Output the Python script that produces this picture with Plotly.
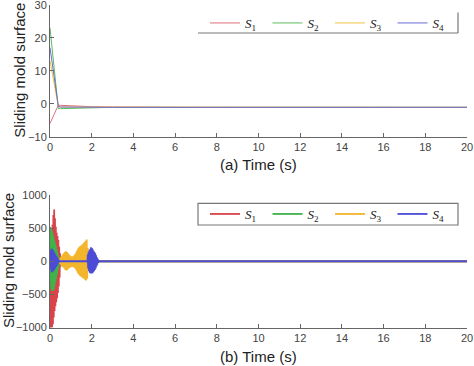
import plotly.graph_objects as go

W, H = 474, 366

# ---------------- data: panel (a) ----------------
t_a = [0, 0.4, 0.5, 1, 2, 3, 4, 6, 20]
a_s1 = [-6, -0.4, -0.5, -0.7, -0.9, -1.0, -1.05, -1.1, -1.1]
a_s2 = [23, -1.5, -1.5, -1.4, -1.2, -1.1, -1.1, -1.1, -1.1]
a_s3 = [13, -0.8, -1.0, -1.0, -1.05, -1.1, -1.1, -1.1, -1.1]
a_s4 = [17, -0.8, -1.0, -1.05, -1.1, -1.1, -1.1, -1.1, -1.1]

# ---------------- data: panel (b) ----------------
b_t1 = [0.00, 0.02, 0.04, 0.06, 0.08, 0.10, 0.12, 0.14, 0.16, 0.18, 0.20, 0.22, 0.24,
        0.26, 0.28, 0.30, 0.32, 0.34, 0.36, 0.38, 0.40, 0.42, 0.44, 0.46, 0.48, 0.50, 0.52, 20]
b_s1 = [0, -1050, 250, -1050, 400, -1000, 550, -950, 700, -850, 780, -750, 650,
        -680, 520, -620, 430, -560, 380, -480, 320, -380, 220, -250, 120, -80, 0, 0]

b_t2 = [0.00, 0.02, 0.04, 0.06, 0.08, 0.10, 0.12, 0.14, 0.16, 0.18, 0.20, 0.22, 0.24,
        0.26, 0.28, 0.30, 0.32, 0.34, 0.36, 0.38, 0.40, 0.42, 0.44, 0.46, 20]
b_s2 = [520, -300, 500, -420, 470, -450, 430, -450, 380, -430, 330, -380, 280,
        -320, 230, -260, 180, -200, 130, -140, 80, -80, 30, 0, 0]

b_t3 = [0, 0.44, 0.460, 0.485, 0.510, 0.535, 0.560, 0.585, 0.610, 0.635, 0.660, 0.685,
        0.710, 0.735, 0.760, 0.785, 0.810, 0.835, 0.860, 0.885, 0.910, 0.935, 0.960,
        0.985, 1.010, 1.035, 1.060, 1.085, 1.110, 1.135, 1.160, 1.185, 1.210, 1.235,
        1.260, 1.285, 1.310, 1.335, 1.360, 1.385, 1.410, 1.435, 1.460, 1.485, 1.510,
        1.535, 1.560, 1.585, 1.610, 1.635, 1.660, 1.685, 1.710, 1.735, 1.760, 1.785,
        1.810, 1.830, 20]
b_s3 = [0, 0, 30, -40, 60, -60, 80, -80, 100, -90, 120, -110,
        140, -130, 150, -140, 140, -130, 120, -110, 100, -100, 85,
        -90, 75, -85, 70, -85, 75, -90, 90, -100, 110, -120,
        140, -150, 170, -180, 200, -200, 220, -220, 230, -230, 240,
        -240, 255, -255, 270, -265, 290, -280, 310, -290, 330, -260,
        200, 0, 0]

b_t4 = [0.00, 0.02, 0.04, 0.06, 0.08, 0.10, 0.12, 0.14, 0.16, 0.18, 0.20, 0.22, 0.24,
        0.26, 0.28, 0.30, 0.32, 0.34, 0.36, 0.38, 0.40, 0.42, 0.44,
        1.80, 1.81, 1.83, 1.85, 1.87, 1.89, 1.91, 1.93, 1.95, 1.97, 1.99, 2.01, 2.03,
        2.05, 2.07, 2.09, 2.11, 2.13, 2.15, 2.17, 2.19, 2.21, 2.23, 2.25, 2.27, 2.29,
        2.31, 2.33, 2.35, 20]
b_s4 = [0, 150, -120, 190, -170, 190, -160, 170, -150, 150, -130, 120, -110,
        100, -90, 80, -70, 60, -50, 40, -30, 20, 0,
        0, 100, -110, 140, -150, 170, -175, 190, -185, 210, -185, 200, -180,
        180, -165, 160, -150, 140, -130, 120, -110, 90, -80, 60, -50, 35,
        -25, 10, 0, 0]

names = ["<i>S</i><sub>1</sub>", "<i>S</i><sub>2</sub>", "<i>S</i><sub>3</sub>", "<i>S</i><sub>4</sub>"]
colors_a = ["#e0707a", "#5cbc5c", "#f2c440", "#6a6ad8"]
colors_b = ["#d9434a", "#3fb24a", "#f2b52c", "#4b4bd6"]

x_ticks = list(range(0, 21, 2))
ya_ticks = [-10, 0, 10, 20, 30]
yb_ticks = [-1000, -500, 0, 500, 1000]

def px(x):
    return x / W

def py(y):
    return 1 - y / H

fig = go.Figure()
for name, col, y in zip(names, colors_a, [a_s1, a_s2, a_s3, a_s4]):
    fig.add_trace(go.Scatter(x=t_a, y=y, mode="lines", name=name,
                             line=dict(color=col, width=1), xaxis="x", yaxis="y",
                             legend="legend"))
for name, col, (tt, y) in zip(names, colors_b, [(b_t1, b_s1), (b_t2, b_s2), (b_t3, b_s3), (b_t4, b_s4)]):
    fig.add_trace(go.Scatter(x=tt, y=y, mode="lines", name=name,
                             line=dict(color=col, width=1.8), xaxis="x2", yaxis="y2",
                             legend="legend2"))

axis_common = dict(showgrid=False, zeroline=False, showline=True, linecolor="#666",
                   linewidth=1, ticks="inside", ticklen=4, tickcolor="#666",
                   tickfont=dict(family="Liberation Sans, Arial", size=11, color="#444"),
                   mirror=False, automargin=False, ticklabeloverflow="allow")

fig.update_layout(
    template="none",
    width=W, height=H,
    margin=dict(l=0, r=0, t=0, b=0, autoexpand=False),
    paper_bgcolor="white", plot_bgcolor="white",
    xaxis=dict(domain=[px(50), px(467)], range=[0, 20], tickvals=x_ticks, anchor="y", **axis_common),
    yaxis=dict(domain=[py(136.7), py(4.7)], range=[-10, 30], tickvals=ya_ticks, anchor="x", **axis_common),
    xaxis2=dict(domain=[px(50), px(467)], range=[0, 20], tickvals=x_ticks, anchor="y2", **axis_common),
    yaxis2=dict(domain=[py(327.5), py(195)], range=[-1000, 1000], tickvals=yb_ticks, anchor="x2", **axis_common),
    legend=dict(orientation="h", x=px(205), xanchor="left", y=py(23), yanchor="middle",
                bgcolor="rgba(0,0,0,0)", borderwidth=0, entrywidth=17.5,
                font=dict(family="Liberation Serif, Times New Roman", size=13, color="#222")),
    legend2=dict(orientation="h", x=px(205), xanchor="left", y=py(214), yanchor="middle",
                 bgcolor="rgba(0,0,0,0)", borderwidth=0, entrywidth=17.5,
                 font=dict(family="Liberation Serif, Times New Roman", size=13, color="#222")),
    showlegend=True,
)

box_line = dict(color="#777", width=1.2)
fig.add_shape(type="line", xref="paper", yref="paper", x0=px(198), x1=px(458), y0=py(33), y1=py(33), line=box_line)
fig.add_shape(type="line", xref="paper", yref="paper", x0=px(458), x1=px(458), y0=py(33), y1=py(12.5), line=box_line)
fig.add_shape(type="rect", xref="paper", yref="paper", x0=px(198), x1=px(458), y0=py(225), y1=py(203.3), line=box_line)

title_font = dict(family="Liberation Sans, Arial", size=15, color="#222")
fig.add_annotation(text="Sliding mold surface", xref="paper", yref="paper", x=px(20), y=py(70.7),
                   textangle=-90, showarrow=False, font=title_font, xanchor="center", yanchor="middle")
fig.add_annotation(text="Sliding mold surface", xref="paper", yref="paper", x=px(8), y=py(261),
                   textangle=-90, showarrow=False, font=title_font, xanchor="center", yanchor="middle")
fig.add_annotation(text="(a) Time (s)", xref="paper", yref="paper", x=px(258.5), y=py(165),
                   showarrow=False, font=title_font, xanchor="center", yanchor="middle")
fig.add_annotation(text="(b) Time (s)", xref="paper", yref="paper", x=px(258.5), y=py(356),
                   showarrow=False, font=title_font, xanchor="center", yanchor="middle")

fig.write_html("out.html", config={"displayModeBar": False},
               post_script="document.body.style.margin='0';document.body.style.padding='0';")
